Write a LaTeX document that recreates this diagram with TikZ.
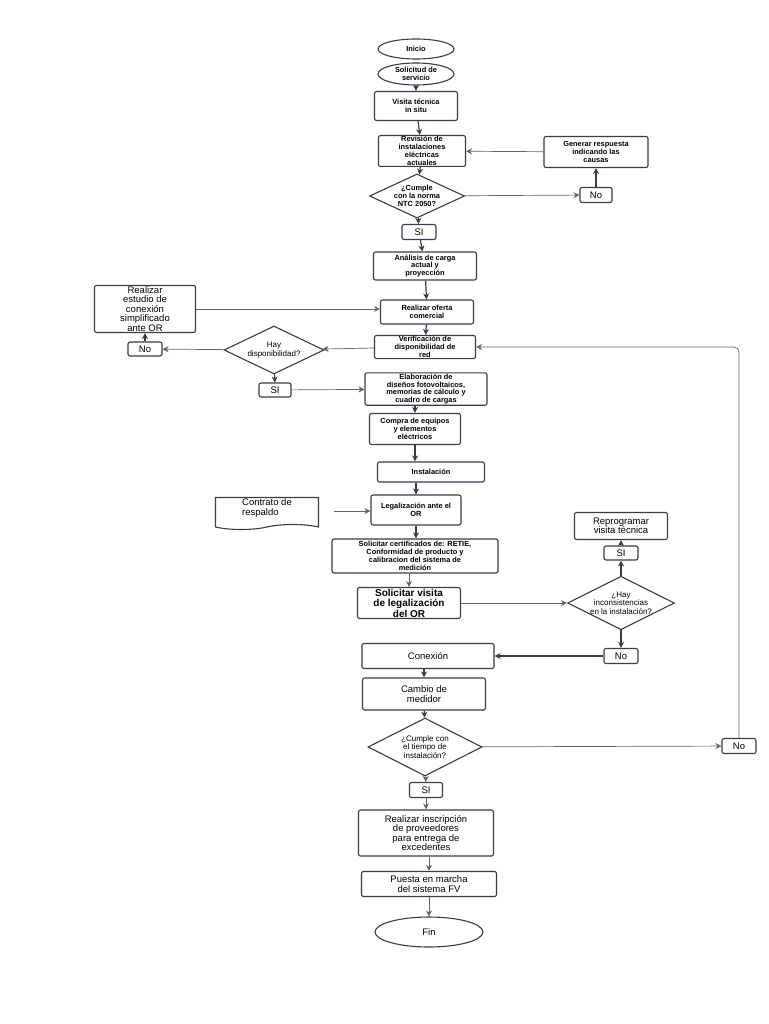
\documentclass[tikz,border=0pt]{standalone}
\usepackage{fontspec}
\setmainfont{Liberation Sans}
\usetikzlibrary{shapes.geometric,shapes.symbols,shapes.misc,arrows.meta}
\definecolor{ln}{RGB}{55,60,72}
\begin{document}
\begin{tikzpicture}[x=1pt,y=-1pt,
  base/.style={draw=ln,line width=1.1pt,align=center,inner sep=1pt,text=black},
  bx/.style={base,rectangle,rounded corners=2pt,minimum width=#1},
  sm/.style={font=\fontsize{7.4}{7.8}\selectfont\bfseries},
  lg/.style={font=\fontsize{9.5}{9.5}\selectfont},
  dia/.style={base,diamond,aspect=2,inner sep=0pt},
  lb/.style={bx=#1,lg},
  ar/.style={draw=ln,line width=1.2pt,-{Stealth[length=6pt,width=6pt]}},
  thin/.style={draw=ln!80,line width=0.7pt,-{Stealth[length=6pt,width=6pt]}}]
\useasboundingbox (0,0) rectangle (768,1024);
\node[base,ellipse,sm,minimum width=76,minimum height=20] (ini) at (416,49) {Inicio};
\node[base,ellipse,sm,minimum width=76,minimum height=22] (sol) at (416,74) {Solicitud de\\servicio};
\node[bx=83,sm,minimum height=29] (vis) at (416,106) {Visita técnica\\in situ};
\node[bx=87,sm,minimum height=29] (rev) at (422,151) {Revisión de\\instalaciones\\eléctricas\\actuales};
\node[dia,sm,minimum width=95,minimum height=42] (d1) at (417,196) {¿Cumple\\con la norma\\NTC 2050?};
\node[bx=104,sm,minimum height=31] (gen) at (596,152) {Generar respuesta\\indicando las\\causas};
\node[bx=32,lg,minimum height=15] (no1) at (596,195) {No};
\node[bx=34,lg,minimum height=15] (si1) at (419,232) {SI};
\node[bx=103,sm,minimum height=28] (ana) at (425,266) {Análisis de carga\\actual y\\proyección};
\node[bx=93,sm,minimum height=24] (ofe) at (427,312) {Realizar oferta\\comercial};
\node[lb=101,minimum height=44] (est) at (145,309) {Realizar\\estudio de\\conexión\\simplificado\\ante OR};
\node[bx=34,lg,minimum height=14] (no2) at (145,349) {No};
\node[dia,font=\fontsize{8}{8.5}\selectfont,minimum width=100,minimum height=48] (d2) at (274,350) {Hay\\disponibilidad?};
\node[bx=101,sm,minimum height=22] (ver) at (425,347) {Verificación de\\disponibilidad de\\red};
\node[bx=32,lg,minimum height=14] (si2) at (275,390) {SI};
\node[bx=122,sm,minimum height=30] (ela) at (426,389) {Elaboración de\\diseños fotovoltaicos,\\memorias de cálculo y\\cuadro de cargas};
\node[bx=91,sm,minimum height=31] (com) at (415,429) {Compra de equipos\\y elementos\\eléctricos};
\node[bx=107,sm,minimum height=20] (ins) at (431,472) {Instalación};
\node[bx=90,sm,minimum height=30] (leg) at (416,510) {Legalización ante el\\OR};
\node[bx=166,sm,minimum height=34] (cer) at (415,556) {Solicitar certificados de: RETIE,\\Conformidad de producto y\\calibracion del sistema de\\medición};
\node[bx=103,minimum height=31,font=\fontsize{10}{10.5}\selectfont\bfseries] (svl) at (409,603) {Solicitar visita\\de legalización\\del OR};
\node[dia,font=\fontsize{8}{8.5}\selectfont,minimum width=104,minimum height=53] (d3) at (621,603) {¿Hay\\inconsistencias\\en la instalación?};
\node[bx=34,lg,minimum height=14] (si3) at (621,553) {SI};
\node[lb=93,minimum height=27] (rep) at (621,526) {Reprogramar\\visita técnica};
\node[bx=34,lg,minimum height=15] (no3) at (621,656) {No};
\node[lb=132,minimum height=25] (con) at (428,656) {Conexión};
\node[lb=123,minimum height=32] (cam) at (424,694) {Cambio de\\medidor};
\node[dia,font=\fontsize{8}{8.5}\selectfont,minimum width=114,minimum height=58] (d4) at (425,747) {¿Cumple con\\el tiempo de\\instalación?};
\node[bx=34,lg,minimum height=15] (no4) at (739,746) {No};
\node[bx=33,lg,minimum height=15] (si4) at (426,790) {SI};
\node[lb=135,minimum height=46] (rea) at (426,833) {Realizar inscripción\\de proveedores\\para entrega de\\excedentes};
\node[lb=135,minimum height=25] (pue) at (429,884) {Puesta en marcha\\del sistema FV};
\node[base,ellipse,lg,minimum width=108,minimum height=30] (fin) at (429,932) {Fin};
\node[base,tape,tape bend top=none,lg,minimum width=103,minimum height=32,align=left,text depth=8pt] (cont) at (267,511) {Contrato de\\respaldo};
\coordinate (c1) at (334,511);
% connectors
\draw[ar] (sol) -- (vis);
\draw[ar] (vis) -- (rev);
\draw[ar] (rev) -- (d1);
\draw[thin] (d1) -- (no1);
\draw[ar] (no1) -- (gen);
\draw[thin] (gen) -- (rev);
\draw[ar] (d1) -- (si1);
\draw[ar] (si1) -- (ana);
\draw[ar] (ana) -- (ofe);
\draw[thin] (est.east) -- (ofe.west|-est.east);
\draw[ar] (ofe) -- (ver);
\draw[thin] (ver) -- (d2);
\draw[thin] (d2) -- (no2);
\draw[ar] (no2) -- (est);
\draw[ar] (d2) -- (si2);
\draw[thin] (si2) -- (ela);
\draw[ar] (ela.south-|com) -- (com);
\draw[ar] (com) -- (ins.north-|com);
\draw[ar] (ins.south-|leg) -- (leg);
\draw[thin] (c1) -- (leg.west|-c1);
\draw[ar] (leg) -- (cer.north-|leg);
\draw[thin] (cer.south-|svl) -- (svl);
\draw[thin] (svl) -- (d3);
\draw[ar] (d3) -- (si3);
\draw[ar] (si3) -- (rep);
\draw[ar] (d3) -- (no3);
\draw[ar] (no3) -- (con);
\draw[ar] (con.south-|cam) -- (cam);
\draw[ar] (cam) -- (d4);
\draw[thin] (d4) -- (no4);
\draw[thin,rounded corners=5pt] (no4.north) -- (no4.north|-ver) -- (ver.east);
\draw[thin] (d4) -- (si4);
\draw[thin] (si4) -- (rea);
\draw[thin] (rea.south-|pue) -- (pue);
\draw[thin] (pue) -- (fin);
\end{tikzpicture}
\end{document}
